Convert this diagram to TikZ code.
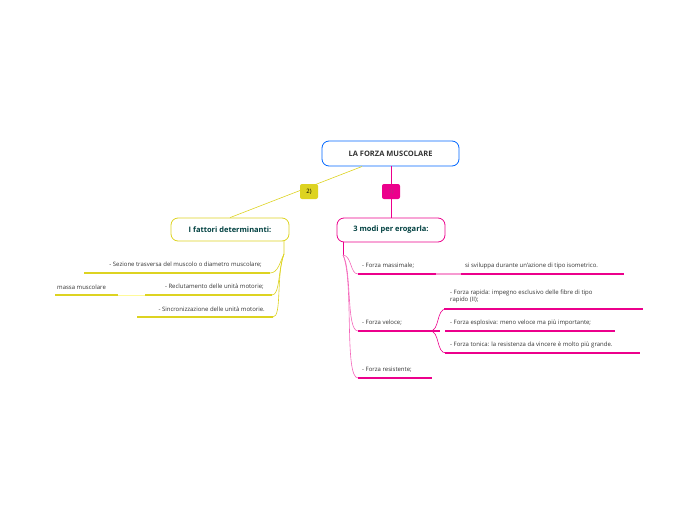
\documentclass[tikz,border=0pt]{standalone}
\usepackage{fontspec}
\setmainfont{Open Sans}
\begin{document}
\begin{tikzpicture}[x=1pt,y=-1pt,
  yel/.style={draw=yellow!85!black!90},
  mag/.style={draw=magenta},
  lbl/.style={font=\fontsize{6}{7}\selectfont, text=black!80, inner sep=0pt, anchor=west},
  boxt/.style={font=\bfseries\fontsize{7.5}{9}\selectfont, text=teal!50!black},
  ul/.style={line width=1.2pt}]
\useasboundingbox (0,0) rectangle (697,520);
% root
\node[draw=blue!60!cyan, line width=0.8pt, rounded corners=7pt, minimum width=137pt, minimum height=25pt, font=\bfseries\fontsize{7.5}{9}\selectfont, text=black!80] (root) at (390.5,153.5) {LA FORZA MUSCOLARE};
\node[draw=yellow!85!black, line width=0.8pt, rounded corners=7pt, minimum width=118pt, minimum height=23pt, boxt] (fat) at (230,229.5) {I fattori determinanti:};
\node[draw=magenta, line width=0.8pt, rounded corners=7pt, minimum width=108pt, minimum height=24pt, boxt] (modi) at (391,230) {3 modi per erogarla:};
\coordinate (r2) at (362,166.5);
\draw[yellow!85!black, line width=0.6pt] (r2) -- (fat.north);
\draw[magenta, line width=0.8pt] (root.south -| modi.north) -- (modi.north);
\node[fill=yellow!85!black, rounded corners=2pt, minimum width=18pt, minimum height=15pt, inner sep=0pt, font=\fontsize{6}{7}\selectfont] (l2) at (309,191.5) {2)};
\node[fill=magenta, rounded corners=2pt, minimum width=18pt, minimum height=15pt, inner sep=0pt, font=\fontsize{6}{7}\selectfont, text=magenta!60!black] (l1) at (391,191.5) {1)};
% yellow children
\coordinate (ys) at (284,241);
\coordinate (ya) at (270,273); \coordinate (yb) at (272,295); \coordinate (yc) at (273,317);
\draw[yellow!85!black, line width=0.6pt] (ys) -- (284,254) (284,254) .. controls (280,262) and (278,273) .. (ya);
\draw[yellow!85!black, line width=0.6pt] (284,254) .. controls (278,270) and (280,295) .. (yb);
\draw[yellow!85!black, line width=0.6pt] (284,254) .. controls (276,275) and (282,317) .. (yc);
\draw[yellow!85!black, ul] (84,273) -- (ya);
\node[lbl, anchor=east] (ta) at (262,265) {- Sezione trasversa del muscolo o diametro muscolare;};
\draw[yellow!85!black, ul] (145,295) -- (yb);
\node[lbl, anchor=east] (tb) at (264,287) {- Reclutamento delle unità motorie;};
\draw[yellow!85!black, ul] (55,295) -- (118,295);
\draw[yellow!40, line width=0.8pt] (118,295) -- (145,295);
\node[lbl] (tm) at (57,287) {massa muscolare};
\draw[yellow!85!black, ul] (137,317) -- (yc);
\node[lbl, anchor=east] (tc) at (265,309) {- Sincronizzazione delle unità motorie.};
% magenta children
\coordinate (ms) at (343,242);
\draw[magenta, line width=0.8pt] (ms) -- (343,255);
\draw[magenta!60, line width=0.6pt] (343,255) .. controls (352,256) and (350,274) .. (358,274);
\draw[magenta!60, line width=0.6pt] (343,255) .. controls (352,270) and (346,331) .. (358,331);
\draw[magenta!60, line width=0.6pt] (343,255) .. controls (354,280) and (344,378) .. (358,378);
\draw[magenta, ul] (358,274) -- (436,274);
\draw[magenta!40, ul] (436,274) -- (461,274);
\draw[magenta, ul] (461,274) -- (624,274);
\node[lbl] at (362,266) {- Forza massimale;};
\node[lbl] at (465,266) {si sviluppa durante un'azione di tipo isometrico.};
\draw[magenta, ul] (358,331) -- (440,331);
\node[lbl] at (362,323) {- Forza veloce;};
\draw[magenta, line width=0.6pt] (430,331) .. controls (440,331) and (436,309) .. (446,309);
\draw[magenta, line width=0.6pt] (430,331) .. controls (440,331) and (436,353) .. (446,353);
\draw[magenta, ul] (444,309) -- (643,309);
\node[lbl, align=left] at (450,296) {- Forza rapida: impegno esclusivo delle fibre di tipo\\rapido (II);};
\draw[magenta, ul] (445,331) -- (615,331);
\node[lbl] at (450,323) {- Forza esplosiva: meno veloce ma più importante;};
\draw[magenta, ul] (445,353) -- (640,353);
\node[lbl] at (450,345) {- Forza tonica: la resistenza da vincere è molto più grande.};
\draw[magenta, ul] (358,378) -- (432,378);
\node[lbl] at (362,370) {- Forza resistente;};
\end{tikzpicture}
\end{document}
